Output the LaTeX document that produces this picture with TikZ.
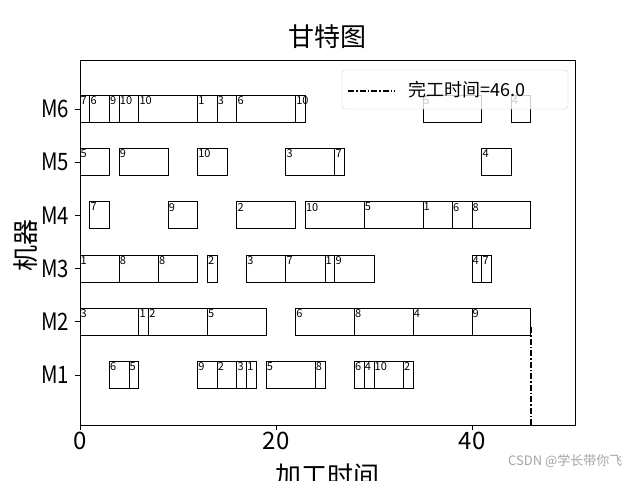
\documentclass[tikz,border=0pt]{standalone}
\usepackage{fontspec}
\setmainfont{Noto Sans CJK SC}
\begin{document}
\begin{tikzpicture}[x=1pt,y=-1pt,
  jobbox/.style={draw=black,line width=1pt,fill=white},
  joblab/.style={anchor=north west,inner sep=0.5pt,font=\fontsize{11}{11}\selectfont},
  ticklab/.style={font=\fontsize{24}{24}\selectfont}]
\useasboundingbox (0,0) rectangle (640,480);
\fill[white] (0,0) rectangle (640,480);
% axes
\draw[line width=0.8pt] (80,60) rectangle (575,425);
\node[font=\fontsize{26}{26}\selectfont] (title) at (327,37) {甘特图};
\node[font=\fontsize{26}{26}\selectfont,rotate=90] (ylab) at (26,245) {机器};
\node[font=\fontsize{26}{26}\selectfont,anchor=north] (xlab) at (327,460) {加工时间};
\foreach \r in {1,...,6}{
  \pgfmathsetmacro{\yy}{375-53.2*(\r-1)}
  \draw[line width=0.8pt] (75,\yy) -- (80,\yy);
  \node[ticklab,anchor=east,xscale=0.85] (m\r) at (72,\yy) {M\r};
}
\foreach \t in {0,20,40}{
  \pgfmathsetmacro{\xx}{80+9.8*\t}
  \draw[line width=0.8pt] (\xx,425) -- (\xx,430);
  \node[ticklab,anchor=north] (x\t) at (\xx,429) {\t};
}
% jobs: row/start/end/label
\foreach \r/\s/\e/\l in {
 6/0/1/7,6/1/3/6,6/3/4/9,6/4/6/10,6/6/12/10,6/12/14/1,6/14/16/3,6/16/22/6,6/22/23/10,6/35/41/5,6/44/46/4,
 5/0/3/5,5/4/9/9,5/12/15/10,5/21/26/3,5/26/27/7,5/41/44/4,
 4/1/3/7,4/9/12/9,4/16/22/2,4/23/29/10,4/29/35/5,4/35/38/1,4/38/40/6,4/40/46/8,
 3/0/4/1,3/4/8/8,3/8/12/8,3/13/14/2,3/17/21/3,3/21/25/7,3/25/26/1,3/26/30/9,3/40/41/4,3/41/42/7,
 2/0/6/3,2/6/7/1,2/7/13/2,2/13/19/5,2/22/28/6,2/28/34/8,2/34/40/4,2/40/46/9,
 1/3/5/6,1/5/6/5,1/12/14/9,1/14/16/2,1/16/17/3,1/17/18/1,1/19/24/5,1/24/25/8,1/28/29/6,1/29/30/4,1/30/33/10,1/33/34/2}{
  \pgfmathsetmacro{\yy}{375-53.2*(\r-1)}
  \pgfmathsetmacro{\xa}{80+9.8*\s}
  \pgfmathsetmacro{\xb}{80+9.8*\e}
  \draw[jobbox] (\xa,\yy-13.5) rectangle (\xb,\yy+13.5);
  \node[joblab] at (\xa,\yy-13) {\l};
}
% makespan line
\coordinate (ms1) at (530.8,425);
\coordinate (ms2) at (530.8,327);
\draw[line width=1.5pt,dash pattern=on 6pt off 2pt on 1.5pt off 2pt] (ms1) -- (ms2);
% legend
\draw[rounded corners=3pt,draw=gray!40,fill=white,fill opacity=0.8] (342,70) rectangle (568,109);
\coordinate (lg1) at (348,91);
\coordinate (lg2) at (395,91);
\draw[line width=1.5pt,dash pattern=on 6pt off 2pt on 1.5pt off 2pt] (lg1) -- (lg2);
\node[anchor=west,font=\fontsize{18}{18}\selectfont] (leg) at (405,90) {完工时间=46.0};
% watermark
\node[anchor=east,text=gray!70,font=\fontsize{13}{13}\selectfont] (wm) at (626,461) {CSDN @学长带你飞};
\end{tikzpicture}
\end{document}
